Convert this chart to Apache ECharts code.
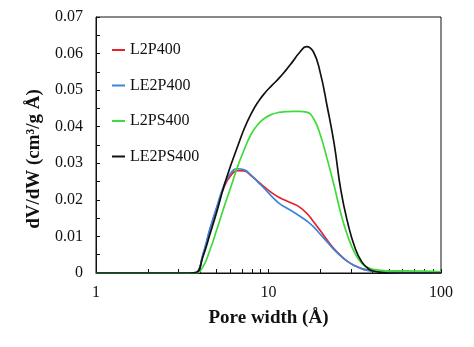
<!DOCTYPE html>
<html>
<head>
<meta charset="utf-8">
<script src="https://cdn.jsdelivr.net/npm/echarts@6/dist/echarts.min.js"></script>
<style>
html,body{margin:0;padding:0;background:#fff;}
#chart{width:474px;height:347px;}
</style>
</head>
<body>
<div id="chart"></div>
<script>
// Pore width (Å) shared by all samples, and dV/dW (cm³/g Å) for each sample
var seriesNames = ['L2P400', 'LE2P400', 'L2PS400', 'LE2PS400'];

var poreWidth = [1, 2, 3, 3.5, 3.8, 4.17, 4.57, 5.01, 5.50, 6.03, 6.61, 7.24, 7.94, 8.71, 9.55, 10.47, 11.48, 12.59, 13.80, 15.14, 16.60, 18.20, 19.95, 21.88, 23.99, 26.30, 28.84, 31.62, 34.67, 38.02, 41.69, 45.71, 50.1, 63.1, 79.4, 100];

var l2p400 = [0, 0, 0, 0, 0.0001, 0.0048, 0.0117, 0.0178, 0.0233, 0.0266, 0.0280, 0.0279, 0.0266, 0.0250, 0.0234, 0.0219, 0.0207, 0.0198, 0.0190, 0.0180, 0.0164, 0.0141, 0.0116, 0.0090, 0.0066, 0.0047, 0.0031, 0.0020, 0.0012, 0.0007, 0.0004, 0.0002, 0.0002, 0.0001, 0.0001, 0];

var le2p400 = [0, 0, 0, 0, 0.0001, 0.0052, 0.0120, 0.0180, 0.0238, 0.0273, 0.0285, 0.0282, 0.0267, 0.0248, 0.0229, 0.0209, 0.0191, 0.0179, 0.0168, 0.0156, 0.0143, 0.0127, 0.0106, 0.0085, 0.0064, 0.0046, 0.0031, 0.0020, 0.0012, 0.0007, 0.0004, 0.0002, 0.0002, 0.0001, 0.0001, 0];

var l2ps400 = [0, 0, 0, 0, 0, 0.0017, 0.0062, 0.0118, 0.0178, 0.0233, 0.0290, 0.0338, 0.0380, 0.0407, 0.0424, 0.0434, 0.0439, 0.0441, 0.0442, 0.0442, 0.0440, 0.0423, 0.0378, 0.0312, 0.0240, 0.0162, 0.0100, 0.0055, 0.0027, 0.0014, 0.0009, 0.0007, 0.0006, 0.0006, 0.0005, 0.0003];

var le2ps400 = [0, 0, 0, 0, 0.0001, 0.0045, 0.0105, 0.0167, 0.0235, 0.0293, 0.0345, 0.0395, 0.0436, 0.0468, 0.0493, 0.0513, 0.0532, 0.0554, 0.0578, 0.0603, 0.0619, 0.0605, 0.0548, 0.0456, 0.0355, 0.0225, 0.0136, 0.0071, 0.0031, 0.0011, 0.0004, 0.0001, 0, 0, 0, 0];

var xTickValues = [1, 2, 3, 4, 5, 6, 7, 8, 9, 10, 20, 30, 40, 50, 60, 70, 80, 90, 100];
var xAxisTitle = 'Pore width (Å)';
var yAxisTitle = 'dV/dW (cm³/g Å)';

function pairs(xs, ys) {
  var out = [];
  for (var i = 0; i < xs.length; i++) out.push([xs[i], ys[i]]);
  return out;
}

var colors = ['#e3232b', '#3a86dc', '#3ddc3a', '#111111'];
var dataSets = [
  pairs(poreWidth, l2p400),
  pairs(poreWidth, le2p400),
  pairs(poreWidth, l2ps400),
  pairs(poreWidth, le2ps400)
];

var FONT = 'Liberation Serif';
var chart = echarts.init(document.getElementById('chart'), null, {renderer: 'canvas'});

var series = seriesNames.map(function (name, i) {
  return {
    name: name,
    type: 'line',
    data: dataSets[i],
    smooth: 0.5,
    showSymbol: false,
    symbol: 'none',
    z: 2 + i,
    lineStyle: {color: colors[i], width: 1.7},
    itemStyle: {color: colors[i]}
  };
});

chart.setOption({
  animation: false,
  backgroundColor: '#ffffff',
  grid: {
    left: 96, right: 33, top: 17, bottom: 74,
    show: true, borderColor: '#111', borderWidth: 1, backgroundColor: 'transparent'
  },
  legend: {
    orient: 'vertical',
    left: 107,
    top: 37,
    icon: 'rect',
    itemWidth: 13,
    itemHeight: 2,
    itemGap: 19.5,
    data: seriesNames,
    textStyle: {fontFamily: FONT, fontSize: 16, color: '#111', lineHeight: 16}
  },
  xAxis: {
    type: 'log',
    logBase: 10,
    min: 1,
    max: 100,
    axisLine: {show: true, lineStyle: {color: '#111', width: 1}},
    axisTick: {show: true, inside: true, length: 4, lineStyle: {color: '#111'}, customValues: xTickValues},
    minorTick: {show: false},
    splitLine: {show: false},
    axisLabel: {fontFamily: FONT, fontSize: 16, color: '#111', margin: 12},
    name: xAxisTitle,
    nameLocation: 'middle',
    nameGap: 36,
    nameTextStyle: {fontFamily: FONT, fontSize: 19, fontWeight: 'bold', color: '#111'}
  },
  yAxis: {
    type: 'value',
    min: 0,
    max: 0.07,
    interval: 0.01,
    axisLine: {show: true, lineStyle: {color: '#111', width: 1}},
    axisTick: {show: true, inside: true, length: 4, lineStyle: {color: '#111'}},
    minorTick: {show: true, splitNumber: 2, length: 4, lineStyle: {color: '#111'}},
    splitLine: {show: false},
    axisLabel: {
      fontFamily: FONT, fontSize: 16, color: '#111', margin: 13,
      formatter: function (v) { return v === 0 ? '0' : v.toFixed(2); }
    }
  },
  graphic: [{
    type: 'text',
    x: 34,
    y: 159,
    rotation: Math.PI / 2,
    style: {
      text: yAxisTitle,
      fontFamily: FONT,
      fontSize: 19,
      fontWeight: 'bold',
      fill: '#111',
      align: 'center',
      verticalAlign: 'middle'
    }
  }],
  series: series
});
</script>
</body>
</html>
